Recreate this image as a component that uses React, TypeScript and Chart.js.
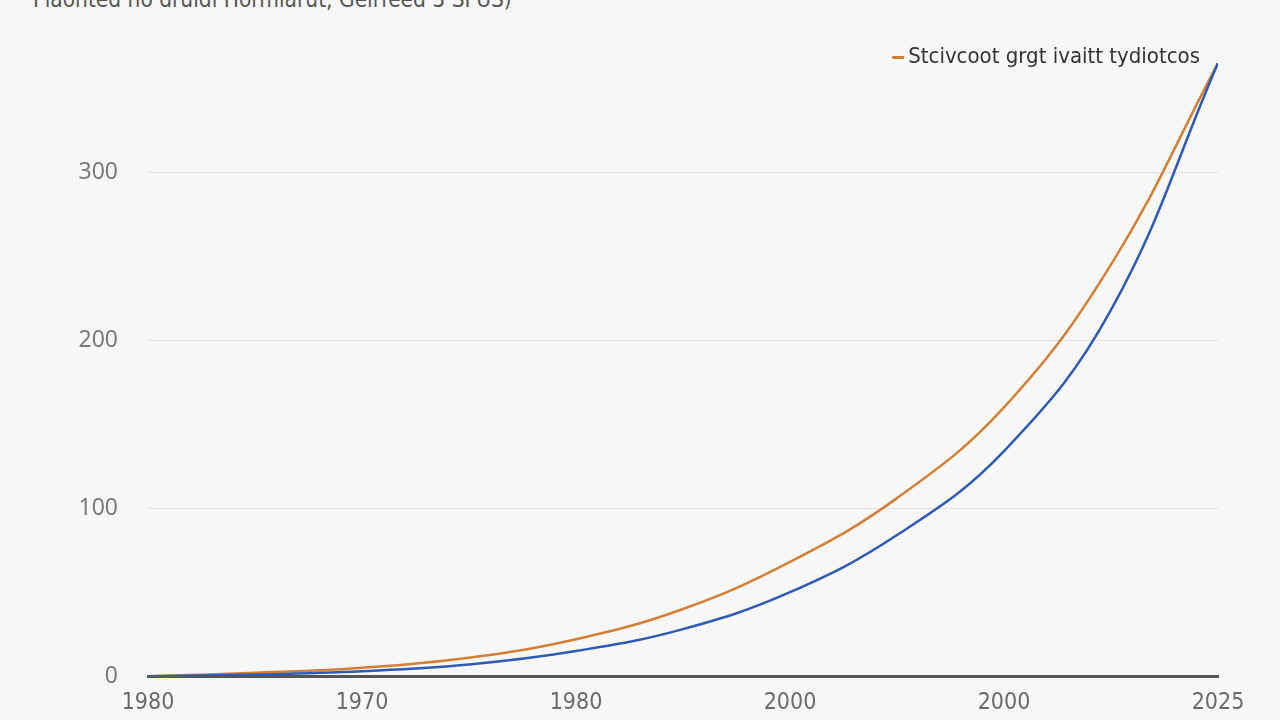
import React, { useRef, useEffect } from 'react';
import Chart from 'chart.js/auto';

const TITLE = 'Flaonted no druidi Hormiarut, Geirfeed 3 SFUS)';
const tickLabels = ['1980', '1970', '1980', '2000', '2000', '2025'];
const xPositions = [0, 0.5, 1, 1.5, 2, 2.5, 3, 3.5, 4, 4.5, 5];
const orangeValues = [0, 2, 5, 11, 22, 40, 68, 106, 160, 245, 365];
const blueValues = [0, 1, 3, 7, 15, 28, 50, 84, 134, 218, 365];
const orangeLabel = 'Stcivcoot grgt ivaitt tydiotcos';
const blueLabel = 'Series 2';

const NARROW = '"DejaVu Sans Condensed", sans-serif';

// legend sits in the top right corner, overlapping the plot edge like the original
const cornerLegend = {
  id: 'cornerLegend',
  afterDraw(chart: Chart) {
    const { ctx, chartArea } = chart;
    const ds = chart.data.datasets[1];
    ctx.save();
    ctx.font = `22px ${NARROW}`;
    ctx.textBaseline = 'middle';
    ctx.textAlign = 'right';
    const right = chartArea.right - 18;
    const y = 57;
    const w = ctx.measureText(ds.label as string).width;
    ctx.fillStyle = '#333333';
    ctx.fillText(ds.label as string, right, y);
    ctx.fillStyle = ds.borderColor as string;
    ctx.fillRect(right - w - 16, y - 1, 12, 3);
    ctx.restore();
  },
};

const App: React.FC = () => {
  const canvasRef = useRef<HTMLCanvasElement | null>(null);
  const chartRef = useRef<Chart | null>(null);

  useEffect(() => {
    const ctx = canvasRef.current?.getContext('2d');
    if (!ctx) return;
    if (chartRef.current) chartRef.current.destroy();

    chartRef.current = new Chart(ctx, {
      type: 'line',
      data: {
        datasets: [
          {
            label: blueLabel,
            data: xPositions.map((x, i) => ({ x, y: blueValues[i] })),
            borderColor: '#2e5bb5',
            borderWidth: 2.5,
            pointRadius: 0,
            tension: 0.4,
          },
          {
            label: orangeLabel,
            data: xPositions.map((x, i) => ({ x, y: orangeValues[i] })),
            borderColor: '#d57f35',
            borderWidth: 2.5,
            pointRadius: 0,
            tension: 0.4,
          },
        ],
      },
      options: {
        responsive: false,
        animation: false,
        layout: { padding: { left: 0, right: 62, top: 63, bottom: 0 } },
        plugins: {
          title: { display: false },
          tooltip: { enabled: false },
          legend: { display: false },
        },
        scales: {
          x: {
            type: 'linear',
            min: 0,
            max: 5,
            afterFit: (scale) => { scale.height = 41; },
            afterBuildTicks: (scale) => {
              scale.ticks = tickLabels.map((_, i) => ({ value: i }));
            },
            ticks: {
              padding: 13,
              color: '#6a6a6a',
              font: { family: NARROW, size: 23 },
              maxRotation: 0,
              callback: (value) => tickLabels[Number(value)] ?? '',
            },
            grid: { display: false, drawTicks: false },
            border: { display: true, color: '#555555', width: 3 },
          },
          y: {
            min: 0,
            max: 365,
            afterFit: (scale) => { scale.width = 148; },
            afterBuildTicks: (scale) => {
              scale.ticks = scale.ticks.filter((t) => t.value % 100 === 0);
            },
            ticks: {
              stepSize: 100,
              padding: 30,
              color: '#7a7a7a',
              font: { family: 'Noto Sans', size: 23 },
            },
            grid: { color: '#e2e2e2', lineWidth: 1, drawTicks: false },
            border: { display: false },
          },
        },
      },
      plugins: [cornerLegend],
    });

    return () => {
      if (chartRef.current) {
        chartRef.current.destroy();
        chartRef.current = null;
      }
    };
  }, []);

  return (
    <div style={{ position: 'fixed', left: 0, top: 0, width: 1280, height: 720, background: '#f7f7f7', overflow: 'hidden' }}>
      <div
        style={{
          position: 'absolute',
          left: 33,
          top: -14,
          fontFamily: NARROW,
          fontSize: 22.5,
          color: '#555',
          whiteSpace: 'nowrap',
        }}
      >
        {TITLE}
      </div>
      <canvas ref={canvasRef} width={1280} height={720} style={{ position: 'absolute', left: 0, top: 0 }} />
    </div>
  );
};

export default App;
